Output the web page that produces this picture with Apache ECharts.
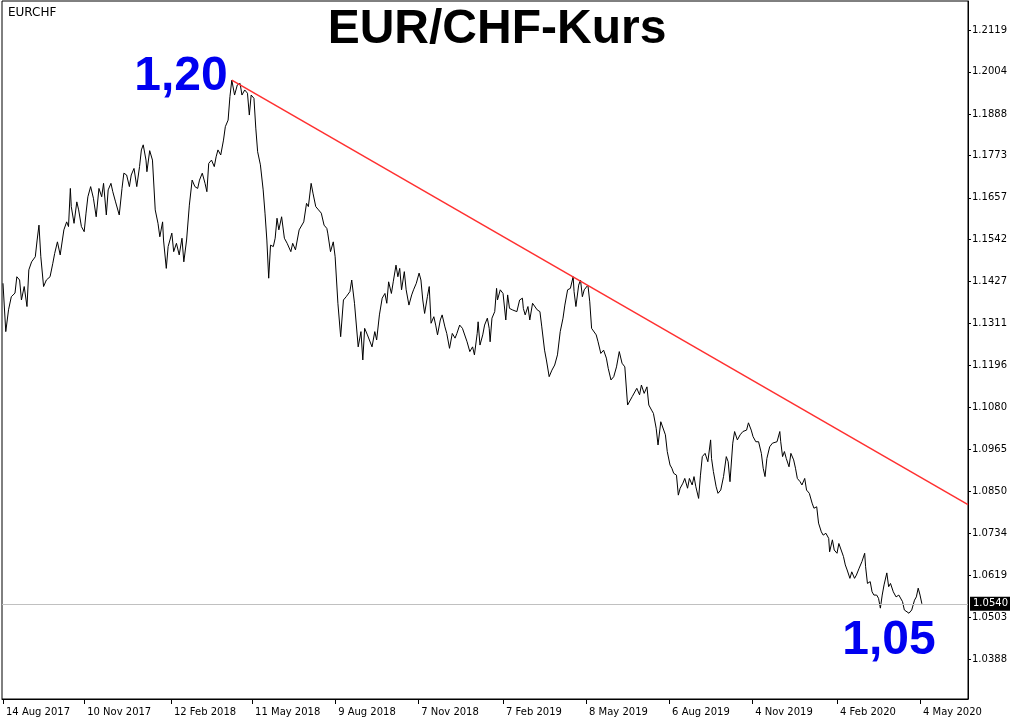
<!DOCTYPE html>
<html>
<head>
<meta charset="utf-8">
<script src="https://cdn.jsdelivr.net/npm/echarts@6/dist/echarts.min.js"></script>
<style>
html,body{margin:0;padding:0;background:#fff;}
#chart{width:1010px;height:721px;}
</style>
</head>
<body>
<div id="chart"></div>
<script>
// ---- Data (date, EUR/CHF close) ----
const eurchf2017 = [
['2017-08-14',1.1422],['2017-08-17',1.1289],['2017-08-20',1.1349],['2017-08-23',1.1385],['2017-08-27',1.1395],['2017-08-29',1.1440],
['2017-09-01',1.1431],['2017-09-03',1.1376],['2017-09-06',1.1413],['2017-09-09',1.1358],['2017-09-11',1.1459],['2017-09-14',1.1481],
['2017-09-18',1.1495],['2017-09-20',1.1541],['2017-09-22',1.1582],['2017-09-24',1.1495],['2017-09-27',1.1413],['2017-09-30',1.1431],
['2017-10-04',1.1440],['2017-10-07',1.1477],['2017-10-09',1.1504],['2017-10-12',1.1536],['2017-10-15',1.1500],['2017-10-19',1.1569],
['2017-10-22',1.1591],['2017-10-24',1.1578],['2017-10-26',1.1683],['2017-10-27',1.1633],['2017-10-30',1.1587],['2017-11-02',1.1646],
['2017-11-04',1.1624],['2017-11-07',1.1578],['2017-11-10',1.1564],['2017-11-12',1.1615],['2017-11-14',1.1660],['2017-11-17',1.1688],
['2017-11-20',1.1656],['2017-11-23',1.1605],['2017-11-26',1.1683],['2017-11-29',1.1660],['2017-12-01',1.1697],['2017-12-04',1.1610],
['2017-12-06',1.1679],['2017-12-09',1.1697],['2017-12-11',1.1674],['2017-12-14',1.1646],['2017-12-18',1.1610],['2017-12-21',1.1683],
['2017-12-23',1.1725],['2017-12-26',1.1720],['2017-12-29',1.1688],['2017-12-31',1.1720]
];
const eurchf2018 = [
['2018-01-03',1.1738],['2018-01-06',1.1688],['2018-01-09',1.1743],['2018-01-11',1.1789],['2018-01-13',1.1803],['2018-01-16',1.1761],
['2018-01-17',1.1729],['2018-01-20',1.1787],['2018-01-23',1.1761],['2018-01-26',1.1624],['2018-01-29',1.1587],['2018-01-31',1.1550],
['2018-02-03',1.1591],['2018-02-04',1.1541],['2018-02-07',1.1463],['2018-02-09',1.1523],['2018-02-13',1.1560],['2018-02-15',1.1509],
['2018-02-18',1.1532],['2018-02-21',1.1500],['2018-02-24',1.1546],['2018-02-26',1.1481],['2018-03-01',1.1541],['2018-03-04',1.1637],
['2018-03-07',1.1706],['2018-03-10',1.1688],['2018-03-13',1.1683],['2018-03-15',1.1706],['2018-03-18',1.1725],['2018-03-21',1.1697],
['2018-03-23',1.1674],['2018-03-25',1.1752],['2018-03-28',1.1761],['2018-03-31',1.1743],['2018-04-02',1.1770],['2018-04-04',1.1789],
['2018-04-07',1.1775],['2018-04-10',1.1816],['2018-04-12',1.1853],['2018-04-15',1.1871],['2018-04-17',1.1936],['2018-04-19',1.1981],
['2018-04-22',1.1940],['2018-04-25',1.1968],['2018-04-28',1.1972],['2018-04-30',1.1940],['2018-05-03',1.1954],['2018-05-06',1.1945],
['2018-05-08',1.1885],['2018-05-10',1.1940],['2018-05-13',1.1931],['2018-05-15',1.1849],['2018-05-17',1.1784],['2018-05-20',1.1748],
['2018-05-23',1.1679],['2018-05-25',1.1615],['2018-05-27',1.1541],['2018-05-29',1.1436],['2018-05-31',1.1527],['2018-06-03',1.1523],
['2018-06-05',1.1546],['2018-06-07',1.1601],['2018-06-09',1.1569],['2018-06-12',1.1605],['2018-06-14',1.1610],['2018-06-15',1.1546],
['2018-06-18',1.1532],['2018-06-22',1.1509],['2018-06-24',1.1532],['2018-06-27',1.1514],['2018-07-01',1.1569],['2018-07-03',1.1564],
['2018-07-06',1.1591],['2018-07-09',1.1642],['2018-07-11',1.1633],['2018-07-14',1.1697],['2018-07-16',1.1670],['2018-07-19',1.1633],
['2018-07-22',1.1624],['2018-07-25',1.1615],['2018-07-28',1.1582],['2018-07-31',1.1573],['2018-08-01',1.1560],['2018-08-04',1.1509],
['2018-08-07',1.1536],['2018-08-09',1.1495],['2018-08-12',1.1367],['2018-08-15',1.1275],['2018-08-18',1.1376],['2018-08-21',1.1385],
['2018-08-25',1.1399],['2018-08-27',1.1431],['2018-08-30',1.1367],['2018-09-03',1.1247],['2018-09-06',1.1289],['2018-09-08',1.1211],
['2018-09-10',1.1298],['2018-09-13',1.1280],['2018-09-15',1.1275],['2018-09-18',1.1247],['2018-09-21',1.1289],['2018-09-23',1.1266],
['2018-09-26',1.1335],['2018-09-29',1.1381],['2018-10-02',1.1394],['2018-10-04',1.1367],['2018-10-06',1.1426],['2018-10-09',1.1394],
['2018-10-11',1.1426],['2018-10-14',1.1472],['2018-10-16',1.1440],['2018-10-18',1.1463],['2018-10-20',1.1404],['2018-10-23',1.1454],
['2018-10-25',1.1404],['2018-10-28',1.1362],['2018-10-31',1.1390],['2018-11-02',1.1404],['2018-11-05',1.1422],['2018-11-08',1.1450],
['2018-11-10',1.1431],['2018-11-12',1.1376],['2018-11-14',1.1339],['2018-11-17',1.1385],['2018-11-19',1.1413],['2018-11-21',1.1312],
['2018-11-24',1.1330],['2018-11-26',1.1307],['2018-11-28',1.1280],['2018-12-01',1.1321],['2018-12-03',1.1335],['2018-12-06',1.1302],
['2018-12-08',1.1284],['2018-12-11',1.1243],['2018-12-14',1.1284],['2018-12-17',1.1271],['2018-12-19',1.1284],['2018-12-22',1.1307],
['2018-12-25',1.1298],['2018-12-27',1.1293],['2018-12-30',1.1261]
];
const eurchf2019 = [
['2019-01-02',1.1234],['2019-01-05',1.1247],['2019-01-07',1.1225],['2019-01-10',1.1284],['2019-01-11',1.1316],['2019-01-13',1.1252],
['2019-01-16',1.1280],['2019-01-18',1.1307],['2019-01-21',1.1326],['2019-01-23',1.1298],['2019-01-24',1.1261],['2019-01-26',1.1326],
['2019-01-29',1.1344],['2019-01-31',1.1408],['2019-02-01',1.1376],['2019-02-04',1.1404],['2019-02-07',1.1394],['2019-02-10',1.1321],
['2019-02-12',1.1390],['2019-02-14',1.1353],['2019-02-17',1.1349],['2019-02-19',1.1349],['2019-02-22',1.1344],['2019-02-25',1.1376],
['2019-02-28',1.1381],['2019-03-01',1.1353],['2019-03-03',1.1335],['2019-03-06',1.1358],['2019-03-08',1.1321],['2019-03-11',1.1367],
['2019-03-13',1.1371],['2019-03-16',1.1349],['2019-03-19',1.1344],['2019-03-21',1.1302],['2019-03-24',1.1238],['2019-03-26',1.1211],
['2019-03-29',1.1165],['2019-04-01',1.1183],['2019-04-04',1.1197],['2019-04-07',1.1225],['2019-04-10',1.1289],['2019-04-13',1.1326],
['2019-04-15',1.1362],['2019-04-18',1.1404],['2019-04-21',1.1408],['2019-04-24',1.1440],['2019-04-25',1.1399],['2019-04-27',1.1358],
['2019-04-30',1.1417],['2019-05-02',1.1431],['2019-05-04',1.1385],['2019-05-06',1.1404],['2019-05-10',1.1417],['2019-05-12',1.1371],
['2019-05-14',1.1298],['2019-05-16',1.1293],['2019-05-19',1.1280],['2019-05-21',1.1261],['2019-05-24',1.1229],['2019-05-27',1.1238],
['2019-05-30',1.1216],['2019-06-01',1.1188],['2019-06-04',1.1156],['2019-06-07',1.1165],['2019-06-10',1.1192],['2019-06-13',1.1234],
['2019-06-16',1.1202],['2019-06-19',1.1192],['2019-06-22',1.1087],['2019-06-24',1.1082],['2019-06-27',1.1110],['2019-06-29',1.1106],
['2019-07-02',1.1133],['2019-07-05',1.1115],['2019-07-07',1.1142],['2019-07-10',1.1119],['2019-07-13',1.1137],['2019-07-15',1.1087],
['2019-07-18',1.1073],['2019-07-20',1.1064],['2019-07-23',1.1023],['2019-07-25',1.0977],['2019-07-28',1.1041],['2019-07-30',1.1046],
['2019-08-02',1.1005],['2019-08-04',1.0959],['2019-08-07',1.0922],['2019-08-09',1.0913],['2019-08-11',1.0899],['2019-08-14',1.0894],
['2019-08-16',1.0839],['2019-08-18',1.0858],['2019-08-21',1.0872],['2019-08-23',1.0885],['2019-08-26',1.0858],['2019-08-28',1.0885],
['2019-08-31',1.0867],['2019-09-02',1.0890],['2019-09-04',1.0862],['2019-09-07',1.0830],['2019-09-09',1.0894],['2019-09-11',1.0945],
['2019-09-14',1.0954],['2019-09-17',1.0931],['2019-09-20',1.0991],['2019-09-21',1.0940],['2019-09-23',1.0904],['2019-09-26',1.0862],
['2019-09-28',1.0844],['2019-10-01',1.0853],['2019-10-04',1.0890],['2019-10-07',1.0945],['2019-10-09',1.0931],['2019-10-11',1.0876],
['2019-10-14',1.0982],['2019-10-16',1.1014],['2019-10-19',1.0991],['2019-10-22',1.1005],['2019-10-25',1.1014],['2019-10-29',1.1018],
['2019-10-31',1.1038],['2019-11-03',1.1018],['2019-11-05',1.1000],['2019-11-08',1.0986],['2019-11-11',1.0986],['2019-11-14',1.0954],
['2019-11-16',1.0913],['2019-11-18',1.0890],['2019-11-20',1.0940],['2019-11-23',1.0972],['2019-11-26',1.0982],['2019-11-28',1.0977],
['2019-12-01',1.0986],['2019-12-04',1.1014],['2019-12-05',1.0986],['2019-12-07',1.0945],['2019-12-09',1.0959],['2019-12-11',1.0940],
['2019-12-14',1.0917],['2019-12-16',1.0954],['2019-12-19',1.0936],['2019-12-21',1.0913],['2019-12-23',1.0885],['2019-12-26',1.0876],
['2019-12-28',1.0867],['2019-12-31',1.0885]
];
const eurchf2020 = [
['2020-01-02',1.0853],['2020-01-05',1.0844],['2020-01-08',1.0817],['2020-01-10',1.0803],['2020-01-13',1.0807],['2020-01-15',1.0762],
['2020-01-18',1.0738],['2020-01-20',1.0729],['2020-01-23',1.0734],['2020-01-26',1.0720],['2020-01-27',1.0683],['2020-01-30',1.0716],
['2020-02-01',1.0688],['2020-02-04',1.0679],['2020-02-06',1.0706],['2020-02-08',1.0702],['2020-02-11',1.0670],['2020-02-13',1.0647],
['2020-02-15',1.0633],['2020-02-18',1.0610],['2020-02-20',1.0628],['2020-02-23',1.0610],['2020-02-25',1.0619],['2020-02-28',1.0638],
['2020-03-02',1.0656],['2020-03-05',1.0679],['2020-03-06',1.0642],['2020-03-08',1.0596],['2020-03-11',1.0601],['2020-03-13',1.0573],
['2020-03-15',1.0564],['2020-03-18',1.0564],['2020-03-20',1.0555],['2020-03-22',1.0528],['2020-03-24',1.0564],['2020-03-26',1.0592],
['2020-03-29',1.0625],['2020-03-31',1.0587],['2020-04-02',1.0596],['2020-04-05',1.0573],['2020-04-08',1.0559],['2020-04-11',1.0564],
['2020-04-13',1.0569],['2020-04-15',1.0546],['2020-04-17',1.0523],['2020-04-19',1.0518],['2020-04-22',1.0514],['2020-04-25',1.0523],
['2020-04-28',1.0550],['2020-04-30',1.0559],['2020-05-02',1.0583],['2020-05-04',1.0564],['2020-05-06',1.0540]
];
// Trend line (resistance) from the April 2018 high through the April 2019 high
const trendDates = ['2018-04-19', '2020-06-25'];
const trendValues = [1.1981, 1.0813];
// Axis tick labels
const xTickDates = ['2017-08-14','2017-11-10','2018-02-12','2018-05-11','2018-08-09','2018-11-07','2019-02-07','2019-05-08','2019-08-06','2019-11-04','2020-02-04','2020-05-04'];
const xTickLabels = ['14 Aug 2017','10 Nov 2017','12 Feb 2018','11 May 2018','9 Aug 2018','7 Nov 2018','7 Feb 2019','8 May 2019','6 Aug 2019','4 Nov 2019','4 Feb 2020','4 May 2020'];
const yTickLabels = ['1.2119','1.2004','1.1888','1.1773','1.1657','1.1542','1.1427','1.1311','1.1196','1.1080','1.0965','1.0850','1.0734','1.0619','1.0503','1.0388'];
const titleText = 'EUR/CHF-Kurs';
const symbolText = 'EURCHF';
const highNote = '1,20';
const lowNote = '1,05';

// ---- Build chart ----
function ts(s){ const p = s.split('-').map(Number); return new Date(p[0], p[1]-1, p[2]).getTime(); }
const priceData = eurchf2017.concat(eurchf2018, eurchf2019, eurchf2020).map(d => [ts(d[0]), d[1]]);
const lastPrice = priceData[priceData.length-1][1];
const xTickTs = xTickDates.map(ts);
const yTickVals = yTickLabels.map(Number);
const trendData = trendDates.map((d,i)=>[ts(d), trendValues[i]]);

const chart = echarts.init(document.getElementById('chart'), null, {renderer:'canvas'});
const FONT = 'Liberation Sans';
const AXFONT = 'DejaVu Sans';
chart.setOption({
  animation: false,
  backgroundColor: '#fff',
  grid: { left: 2, right: 41, top: 1, bottom: 22, show: true, borderColor: '#000', borderWidth: 1, backgroundColor: 'transparent' },
  xAxis: {
    type: 'value',
    min: new Date(2017, 7, 12, 22).getTime(),
    max: new Date(2020, 5, 25).getTime(),
    axisLine: { show: true, lineStyle: { color: '#000', width: 1 } },
    splitLine: { show: false },
    axisTick: { show: true, customValues: xTickTs, length: 5, lineStyle: { color: '#000' } },
    axisLabel: {
      customValues: xTickTs,
      formatter: function(v){ const i = xTickTs.indexOf(v); return i >= 0 ? xTickLabels[i] : ''; },
      align: 'left', padding: [0,0,0,3], margin: 8,
      fontSize: 10, fontFamily: AXFONT, color: '#000', hideOverlap: false
    }
  },
  yAxis: {
    type: 'value', position: 'right', scale: true,
    min: 1.0278, max: 1.21988,
    axisLine: { show: true, lineStyle: { color: '#000', width: 1 } },
    splitLine: { show: false },
    axisTick: { show: true, customValues: yTickVals, length: 3, inside: false, lineStyle: { color: '#000' } },
    axisLabel: {
      customValues: yTickVals,
      formatter: function(v){ return v.toFixed(4); },
      margin: 4, fontSize: 10, fontFamily: AXFONT, color: '#000'
    }
  },
  series: [
    {
      type: 'line', data: priceData, showSymbol: false, symbol: 'none',
      lineStyle: { color: '#000', width: 1 }, z: 3, silent: true,
      markLine: {
        silent: true, symbol: ['none','none'], animation: false, precision: 4,
        lineStyle: { color: '#c0c0c0', type: 'solid', width: 1 },
        label: {
          position: 'end', distance: 2,
          formatter: function(p){ return Number(p.value).toFixed(4); },
          backgroundColor: '#000', color: '#fff', fontSize: 10, fontFamily: AXFONT,
          padding: [2, 3, 2, 3]
        },
        data: [{ yAxis: lastPrice }]
      }
    },
    {
      type: 'line', data: trendData, showSymbol: false, symbol: 'none',
      lineStyle: { color: '#ff3030', width: 1.5 }, z: 4, silent: true
    }
  ],
  graphic: [
    { type: 'text', z: 10, style: { text: titleText, x: 497, y: 30, align: 'center', verticalAlign: 'middle', fontSize: 48, fontWeight: 'bold', fontFamily: FONT, fill: '#000' } },
    { type: 'text', z: 10, style: { text: symbolText, x: 8, y: 13, align: 'left', verticalAlign: 'middle', fontSize: 12, fontFamily: AXFONT, fill: '#000' } },
    { type: 'text', z: 10, style: { text: highNote, x: 181, y: 77, align: 'center', verticalAlign: 'middle', fontSize: 48, fontWeight: 'bold', fontFamily: FONT, fill: '#0000f0' } },
    { type: 'text', z: 10, style: { text: lowNote, x: 889, y: 641, align: 'center', verticalAlign: 'middle', fontSize: 48, fontWeight: 'bold', fontFamily: FONT, fill: '#0000f0' } }
  ]
});
</script>
</body>
</html>
